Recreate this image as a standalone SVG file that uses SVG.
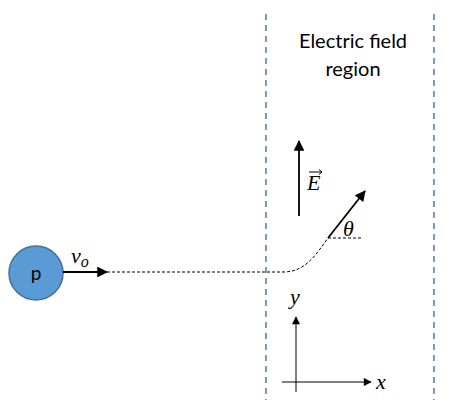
<svg xmlns="http://www.w3.org/2000/svg" width="450" height="419" viewBox="0 0 450 419">
<style>
.bound{stroke:#2E6A9E;stroke-width:1.3;stroke-dasharray:6,5;fill:none}
.arr{stroke:#000;stroke-width:1.8;fill:none}
.thin{stroke:#000;stroke-width:1;fill:none}
.dash{stroke:#000;stroke-width:1;stroke-dasharray:3,2;fill:none}
.lab{font-family:"Lato","Liberation Sans",sans-serif;font-size:20px;fill:#000}
.math{font-family:"Liberation Serif",serif;font-style:italic;font-size:22px;fill:#000}
</style>
<defs>
<marker id="ah" viewBox="0 0 10 10" refX="9" refY="5" markerWidth="7" markerHeight="6" orient="auto" markerUnits="strokeWidth"><path d="M0,0 L10,5 L0,10 z" fill="#000"/></marker>
<marker id="ahs" viewBox="0 0 10 10" refX="9" refY="5" markerWidth="9" markerHeight="8" orient="auto" markerUnits="strokeWidth"><path d="M0,0 L10,5 L0,10 z" fill="#000"/></marker>
</defs>
<g id="boundaries">
<line class="bound" x1="266" y1="14" x2="266" y2="400"/>
<line class="bound" x1="434" y1="14" x2="434" y2="400"/>
</g>
<g id="region-label">
<text class="lab" x="353" y="48" text-anchor="middle">Electric field</text>
<text class="lab" x="353" y="76" text-anchor="middle">region</text>
</g>
<g id="proton">
<circle cx="36" cy="273" r="27" fill="#5B9BD5" stroke="#41719C" stroke-width="1.5"/>
<text x="36" y="280" text-anchor="middle" font-family="Lato, 'Liberation Sans', sans-serif" font-size="19" fill="#000">p</text>
</g>
<g id="connectors">
<line class="arr" x1="63" y1="272" x2="107" y2="272" marker-end="url(#ah)"/>
<path class="dash" d="M107,272 L283,272 C305,272 315,256 328,238"/>
<line class="arr" x1="328" y1="238" x2="365" y2="191" marker-end="url(#ah)"/>
<line class="dash" x1="328" y1="238" x2="361" y2="238"/>
<line class="arr" x1="299" y1="216" x2="299" y2="141" marker-end="url(#ah)"/>
<line class="thin" x1="296" y1="392" x2="296" y2="317" marker-end="url(#ahs)"/>
<line class="thin" x1="282" y1="382" x2="371" y2="382" marker-end="url(#ahs)"/>
</g>
<g id="labels">
<text class="math" x="71" y="263">v<tspan font-size="16" dy="4">o</tspan></text>
<text class="math" x="307" y="190">E</text>
<path d="M309,172 L322,172 M319,169.5 L322,172 L319,174.5" stroke="#000" stroke-width="1" fill="none"/>
<text class="math" x="343" y="236">θ</text>
<text class="math" x="290" y="304">y</text>
<text class="math" x="376" y="389">x</text>
</g>
</svg>
